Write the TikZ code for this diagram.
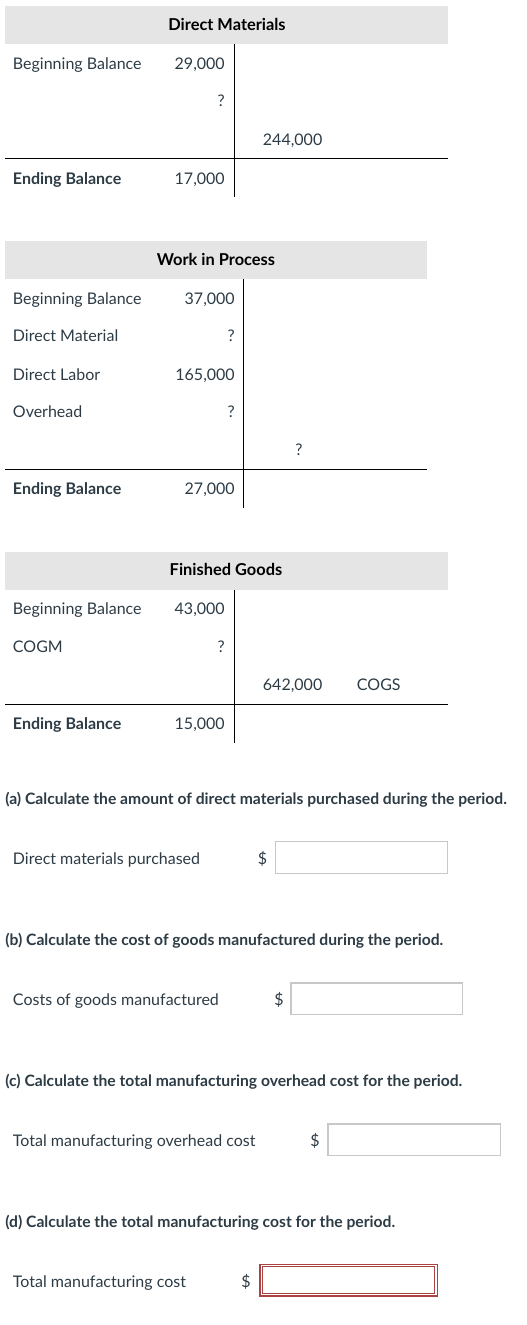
\documentclass[tikz,border=0pt]{standalone}
\usepackage{fontspec}
\setmainfont{Lato}
\usetikzlibrary{fit}
\definecolor{ink}{HTML}{2D3B45}
\definecolor{headgray}{HTML}{E5E5E5}
\definecolor{boxgray}{HTML}{C8C8C8}
\definecolor{errred}{HTML}{A94442}
\tikzstyle{txt} = [font=\fontsize{12}{14}\selectfont, text=ink, inner sep=0pt]
\tikzstyle{lbl} = [txt, anchor=base west]
\tikzstyle{amt} = [txt, anchor=base east]
\tikzstyle{total} = [lbl, font=\fontsize{12}{14}\selectfont\bfseries]
\tikzstyle{question} = [lbl, font=\fontsize{11.75}{14}\selectfont\bfseries]
\tikzstyle{title} = [txt, anchor=base, text=black, font=\fontsize{12.3}{14}\selectfont\bfseries]
\tikzstyle{head} = [fill=headgray, inner sep=0pt]
\tikzstyle{rule} = [black, line width=0.9pt]
\tikzstyle{field} = [draw=boxgray, line width=0.8pt, inner sep=0pt]
\tikzstyle{badfield} = [draw=errred, line width=0.9pt, inner sep=0pt]
\tikzstyle{dollar} = [txt, anchor=base]

\begin{document}
\begin{tikzpicture}[x=0.75pt, y=-0.75pt]
  \useasboundingbox (0,0) rectangle (527,1325);

  % direct materials
  \node[head, fit={(5,6) (448,44)}] (dmhead) {};
  \node[title] (dmtitle) at (227,30.7) {Direct Materials};
  \draw[rule] (234.3,44) -- (234.3,197);
  \draw[rule] (5,158.7) -- (448,158.7);
  \node[lbl] (dmbeg) at (12.7,69) {Beginning Balance};
  \node[amt] (dmbegv) at (225,69) {29,000};
  \node[amt] (dmpur) at (225,106.7) {?};
  \node[lbl] (dmused) at (262.7,145) {244,000};
  \node[total] (dmend) at (12.7,184.3) {Ending Balance};
  \node[amt] (dmendv) at (225,184.3) {17,000};

  % work in process
  \node[head, fit={(5,241) (427,279)}] (wiphead) {};
  \node[title] (wiptitle) at (216,265.7) {Work in Process};
  \draw[rule] (243.3,279) -- (243.3,508);
  \draw[rule] (5,469.3) -- (427,469.3);
  \node[lbl] (wipbeg) at (12.7,304) {Beginning Balance};
  \node[amt] (wipbegv) at (235,304) {37,000};
  \node[lbl] (wipdm) at (12.7,341.7) {Direct Material};
  \node[amt] (wipdmv) at (235,341.7) {?};
  \node[lbl] (wipdl) at (12.7,380) {Direct Labor};
  \node[amt] (wipdlv) at (235,380) {165,000};
  \node[lbl] (wipoh) at (12.7,417.7) {Overhead};
  \node[amt] (wipohv) at (235,417.7) {?};
  \node[lbl] (wipout) at (295,455) {?};
  \node[total] (wipend) at (12.7,494.3) {Ending Balance};
  \node[amt] (wipendv) at (235,494.3) {27,000};

  % finished goods
  \node[head, fit={(5,552) (448,590)}] (fghead) {};
  \node[title] (fgtitle) at (226,575.7) {Finished Goods};
  \draw[rule] (234.3,590) -- (234.3,743);
  \draw[rule] (5,704.7) -- (448,704.7);
  \node[lbl] (fgbeg) at (12.7,614) {Beginning Balance};
  \node[amt] (fgbegv) at (225,614) {43,000};
  \node[lbl] (fgcogm) at (12.7,652.3) {COGM};
  \node[amt] (fgcogmv) at (225,652.3) {?};
  \node[lbl] (fgcogsv) at (262.7,690.7) {642,000};
  \node[lbl] (fgcogs) at (356.7,690.7) {COGS};
  \node[total] (fgend) at (12.7,729.3) {Ending Balance};
  \node[amt] (fgendv) at (225,729.3) {15,000};

  % questions
  \node[question] (qa) at (5,804) {(a) Calculate the amount of direct materials purchased during the period.};
  \node[lbl] (qalbl) at (12.7,864) {Direct materials purchased};
  \node[dollar] (qausd) at (262.5,864) {\$};
  \node[field, fit={(275.3,841.7) (447.7,873.3)}] (qabox) {};

  \node[question] (qb) at (5,945.5) {(b) Calculate the cost of goods manufactured during the period.};
  \node[lbl] (qblbl) at (12.7,1005) {Costs of goods manufactured};
  \node[dollar] (qbusd) at (279,1005) {\$};
  \node[field, fit={(291,983) (462.5,1014.5)}] (qbbox) {};

  \node[question] (qc) at (5,1086) {(c) Calculate the total manufacturing overhead cost for the period.};
  \node[lbl] (qclbl) at (12.7,1146) {Total manufacturing overhead cost};
  \node[dollar] (qcusd) at (315,1146) {\$};
  \node[field, fit={(328,1124) (500.5,1155.5)}] (qcbox) {};

  \node[question] (qd) at (5,1227) {(d) Calculate the total manufacturing cost for the period.};
  \node[lbl] (qdlbl) at (12.7,1287) {Total manufacturing cost};
  \node[dollar] (qdusd) at (246,1287) {\$};
  \node[badfield, fit={(260,1264.3) (437.3,1296)}] (qdbox) {};
  \node[badfield, fit={(262.5,1266.7) (434.7,1293.5)}] (qdinner) {};
\end{tikzpicture}
\end{document}
